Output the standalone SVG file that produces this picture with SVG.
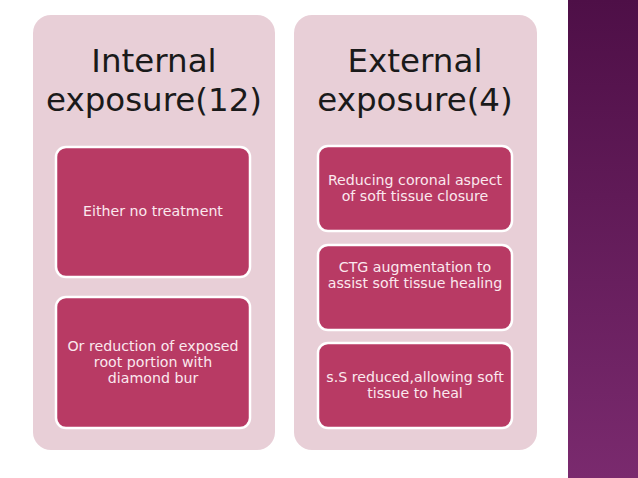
<svg xmlns="http://www.w3.org/2000/svg" width="638" height="478" viewBox="0 0 638 478">
<defs>
<linearGradient id="strip" x1="0" y1="0" x2="0" y2="1"><stop offset="0" stop-color="#4e0f47"/><stop offset="1" stop-color="#7a2a6e"/></linearGradient>
<style>
.panel{fill:#e8cfd7}
.box{fill:#b83a64;stroke:#fff;stroke-width:2.5}
.h{font-family:"DejaVu Sans",sans-serif;font-size:32.5px;fill:#1a1a1a;text-anchor:middle}
.t{font-family:"DejaVu Sans",sans-serif;font-size:14.2px;fill:#fbe8ee;text-anchor:middle}
</style>
</defs>
<rect width="638" height="478" fill="#fff"/>
<rect x="568" y="0" width="70" height="478" fill="url(#strip)"/>
<g id="internal"><rect class="panel" x="33" y="15" width="242" height="435" rx="18"/>
<text class="h" x="154" y="72">Internal</text><text class="h" x="154" y="111">exposure(12)</text></g>
<g id="external"><rect class="panel" x="294" y="15" width="243" height="435" rx="18"/>
<text class="h" x="415" y="72">External</text><text class="h" x="415" y="111">exposure(4)</text></g>
<g id="n1"><rect class="box" x="56" y="147" width="194" height="130" rx="10"/><text class="t" x="153" y="216">Either no treatment</text></g>
<g id="n2"><rect class="box" x="56" y="297" width="194" height="131" rx="10"/><text class="t" x="153" y="351">Or reduction of exposed</text><text class="t" x="153" y="367">root portion with</text><text class="t" x="153" y="383">diamond bur</text></g>
<g id="n3"><rect class="box" x="318" y="146" width="194" height="85" rx="10"/><text class="t" x="415" y="185">Reducing coronal aspect</text><text class="t" x="415" y="201">of soft tissue closure</text></g>
<g id="n4"><rect class="box" x="318" y="245" width="194" height="85" rx="10"/><text class="t" x="415" y="272">CTG augmentation to</text><text class="t" x="415" y="288">assist soft tissue healing</text></g>
<g id="n5"><rect class="box" x="318" y="343" width="194" height="85" rx="10"/><text class="t" x="415" y="382">s.S reduced,allowing soft</text><text class="t" x="415" y="398">tissue to heal</text></g>
<g id="connectors"/>
</svg>
